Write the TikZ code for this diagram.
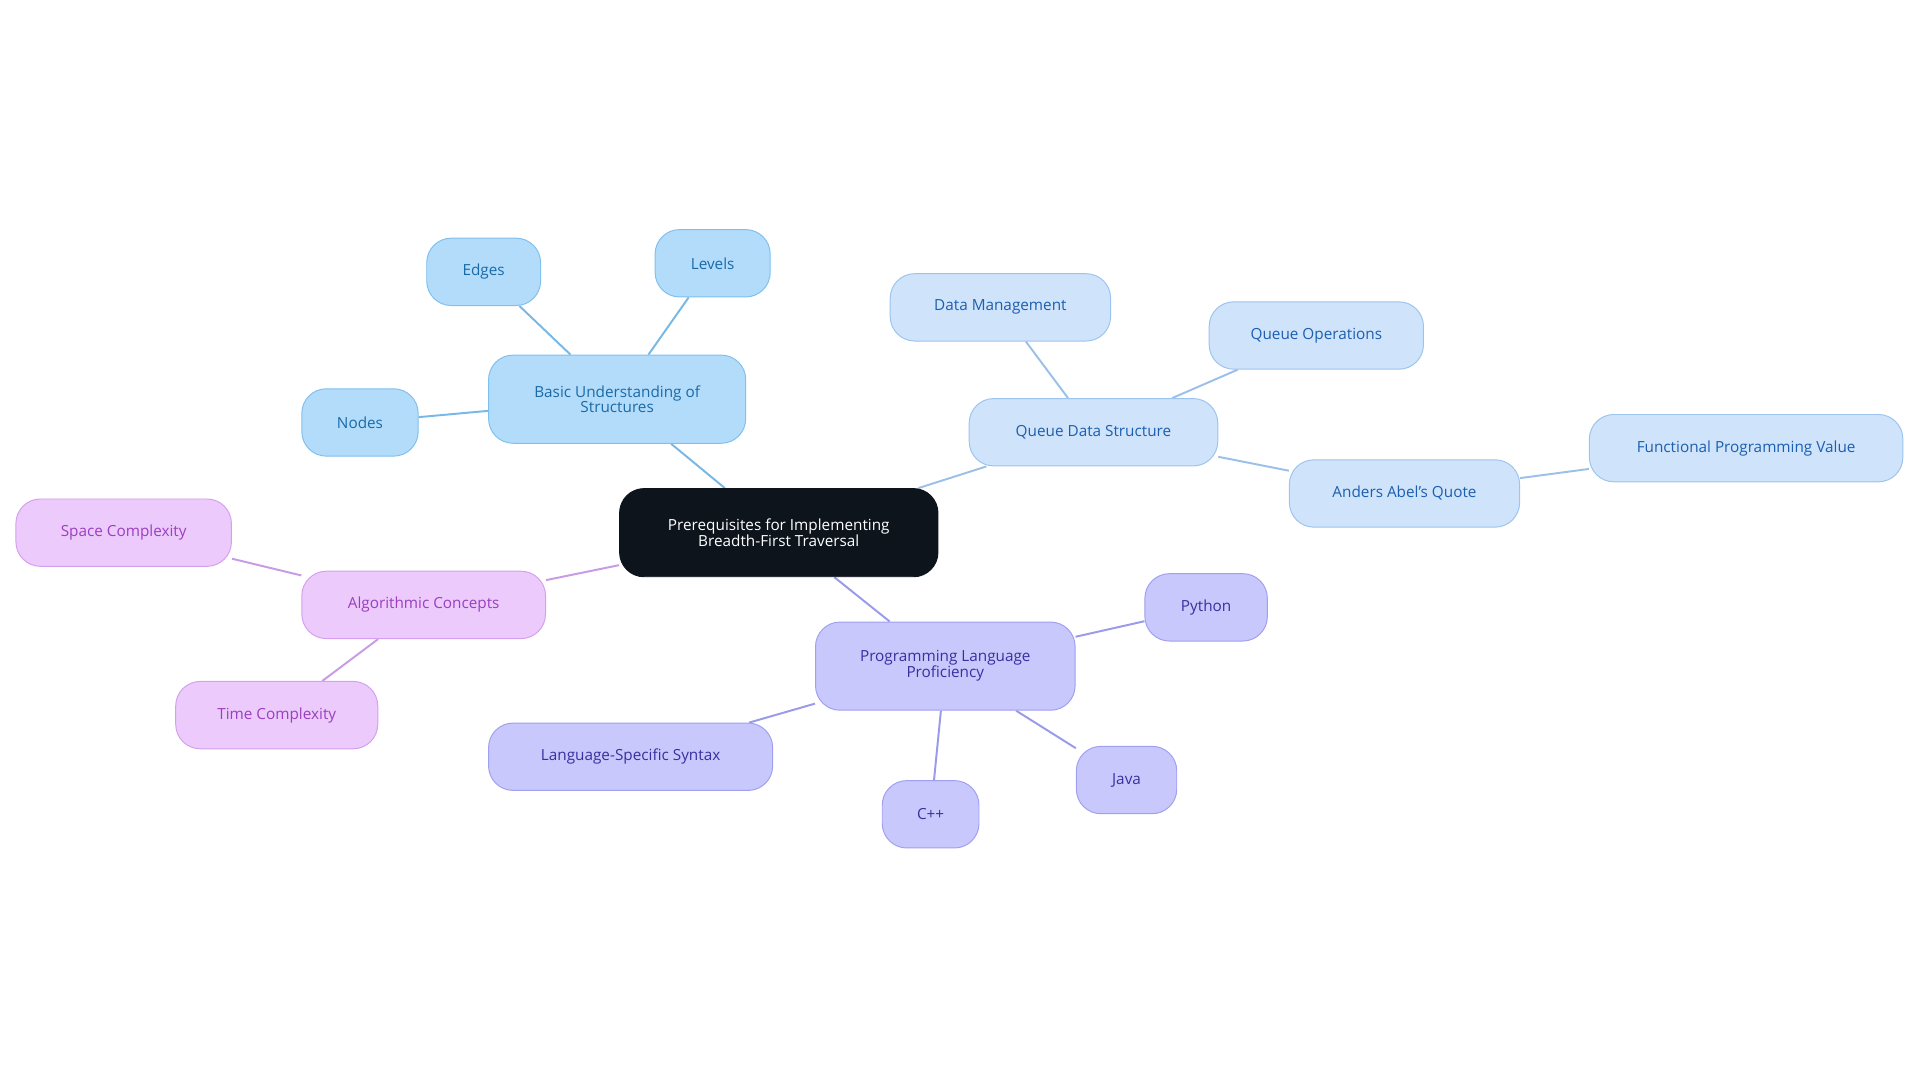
\documentclass[tikz,border=0pt]{standalone}
\usepackage{fontspec}
\setmainfont{Open Sans}
\usetikzlibrary{backgrounds}
\definecolor{cbg}{HTML}{0D141C}
\definecolor{bF}{HTML}{B3DCFB}\definecolor{bD}{HTML}{7FC0EE}\definecolor{bT}{HTML}{1A6AA8}\definecolor{bE}{HTML}{78B8E6}
\definecolor{qF}{HTML}{CFE3FB}\definecolor{qD}{HTML}{9CC4EE}\definecolor{qT}{HTML}{1C5FB0}\definecolor{qE}{HTML}{9CC0E8}
\definecolor{pF}{HTML}{C8C8FC}\definecolor{pD}{HTML}{A0A0F0}\definecolor{pT}{HTML}{3A2FA0}\definecolor{pE}{HTML}{9A9AEA}
\definecolor{aF}{HTML}{ECCAFB}\definecolor{aD}{HTML}{D4A0EE}\definecolor{aT}{HTML}{9A3FC0}\definecolor{aE}{HTML}{C99AE6}
\begin{document}
\begin{tikzpicture}[x=1pt,y=-1pt,
 box/.style={rounded corners=20pt,align=center,font=\fontsize{12.5}{13}\selectfont,inner sep=0pt,line width=0.8pt},
 bb/.style={box,fill=bF,draw=bD,text=bT},
 qb/.style={box,fill=qF,draw=qD,text=qT},
 pb/.style={box,fill=pF,draw=pD,text=pT},
 ab/.style={box,fill=aF,draw=aD,text=aT},
 ln/.style={line width=1.6pt}]
\path[use as bounding box] (0,0) rectangle (1568,884);
\newcommand\nd[6]{\node[#1,minimum width=#4pt,minimum height=#5pt] (#2) at (#3) {#6};}
\nd{box,fill=cbg,draw=cbg,text=white}{c}{636,435}{260}{72}{Prerequisites for Implementing\\Breadth-First Traversal}
\nd{bb}{b}{504,326}{210}{72}{Basic Understanding of\\Structures}
\nd{bb}{b1}{395,222}{93}{55}{Edges}
\nd{bb}{b2}{582,215}{94}{55}{Levels}
\nd{bb}{b3}{294,345}{95}{55}{Nodes}
\nd{qb}{q}{893,353}{203}{55}{Queue Data Structure}
\nd{qb}{q1}{817,251}{180}{55}{Data Management}
\nd{qb}{q2}{1075,274}{175}{55}{Queue Operations}
\nd{qb}{q3}{1147,403}{188}{55}{Anders Abel's Quote}
\nd{qb}{q4}{1426,366}{256}{55}{Functional Programming Value}
\nd{pb}{p}{772,544}{212}{72}{Programming Language\\Proficiency}
\nd{pb}{p1}{985,496}{100}{55}{Python}
\nd{pb}{p2}{920,637}{82}{55}{Java}
\nd{pb}{p3}{760,665}{79}{55}{C++}
\nd{pb}{p4}{515,618}{232}{55}{Language-Specific Syntax}
\nd{ab}{a}{346,494}{199}{55}{Algorithmic Concepts}
\nd{ab}{a1}{101,435}{176}{55}{Space Complexity}
\nd{ab}{a2}{226,584}{165}{55}{Time Complexity}
\begin{scope}[on background layer]
\draw[ln,bE] (c)--(b) (b)--(b1) (b)--(b2) (b)--(b3);
\draw[ln,qE] (c)--(q) (q)--(q1) (q)--(q2) (q)--(q3) (q3)--(q4);
\draw[ln,pE] (c)--(p) (p)--(p1) (p)--(p2) (p)--(p3) (p)--(p4);
\draw[ln,aE] (c)--(a) (a)--(a1) (a)--(a2);
\end{scope}
\end{tikzpicture}
\end{document}
